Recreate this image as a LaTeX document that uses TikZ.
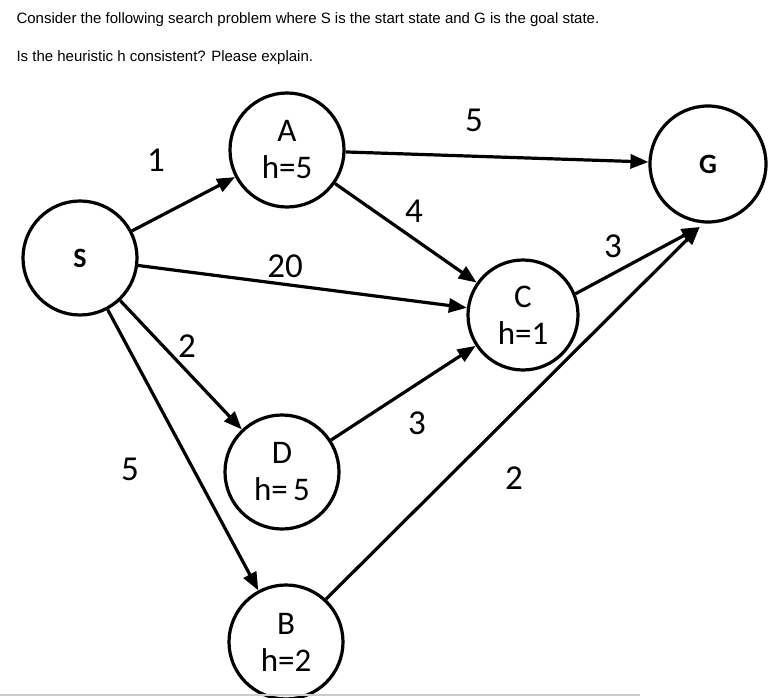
\documentclass[tikz,border=0pt]{standalone}
\usepackage{fontspec}
\setmainfont{Carlito}
\newfontfamily\uifont{Liberation Sans}
\usetikzlibrary{arrows.meta}
\begin{document}
\begin{tikzpicture}[x=1pt,y=-1pt,
  st/.style={circle,draw,line width=3.2pt,minimum size=114pt,inner sep=0pt,align=center,font=\fontsize{33}{37}\selectfont},
  ed/.style={line width=3.2pt,-{Triangle[length=18pt,width=14pt]}},
  lb/.style={font=\fontsize{35}{38}\selectfont},
  tx/.style={anchor=west,font=\uifont\fontsize{15}{18}\selectfont}]
\useasboundingbox (0,0) rectangle (782,698);
\node[tx] (t1) at (13,20) {Consider the following search problem where S is the start state and G is the goal state.};
\node[tx] (t2) at (13,58) {Is the heuristic h consistent? Please explain.};
\node[st,font=\bfseries\fontsize{28}{30}\selectfont] (S) at (80,258) {S};
\node[st] (A) at (287,150) {A\\h=5};
\node[st,font=\bfseries\fontsize{28}{30}\selectfont,minimum size=116pt] (G) at (708,164) {G};
\node[st,minimum size=110pt] (C) at (523,315) {C\\h=1};
\node[st] (D) at (282,472) {D\\h=\,5};
\node[st] (B) at (286,642) {B\\h=2};
\coordinate (g1) at ([yshift=-4pt]G.262);
\draw[ed] (S) -- (A);
\draw[ed] (A) -- (G);
\draw[ed] (A) -- (C);
\draw[ed] (S) -- (C);
\draw[ed] (S) -- (D);
\draw[ed] (D) -- (C);
\draw[ed] (S) -- (B);
\draw[ed] (C.22) -- (g1);
\draw[ed] (B.47) -- (g1);
\node[lb] (l1) at (156,160) {1};
\node[lb] (l2) at (474,120) {5};
\node[lb] (l3) at (414,211) {4};
\node[lb] (l4) at (285,266) {20};
\node[lb] (l5) at (613,246) {3};
\node[lb] (l6) at (187,346) {2};
\node[lb] (l7) at (417,423) {3};
\node[lb] (l8) at (130,469) {5};
\node[lb] (l9) at (514,478) {2};
\draw[line width=2pt,gray!40] (0,695) -- (640,695);
\end{tikzpicture}
\end{document}
